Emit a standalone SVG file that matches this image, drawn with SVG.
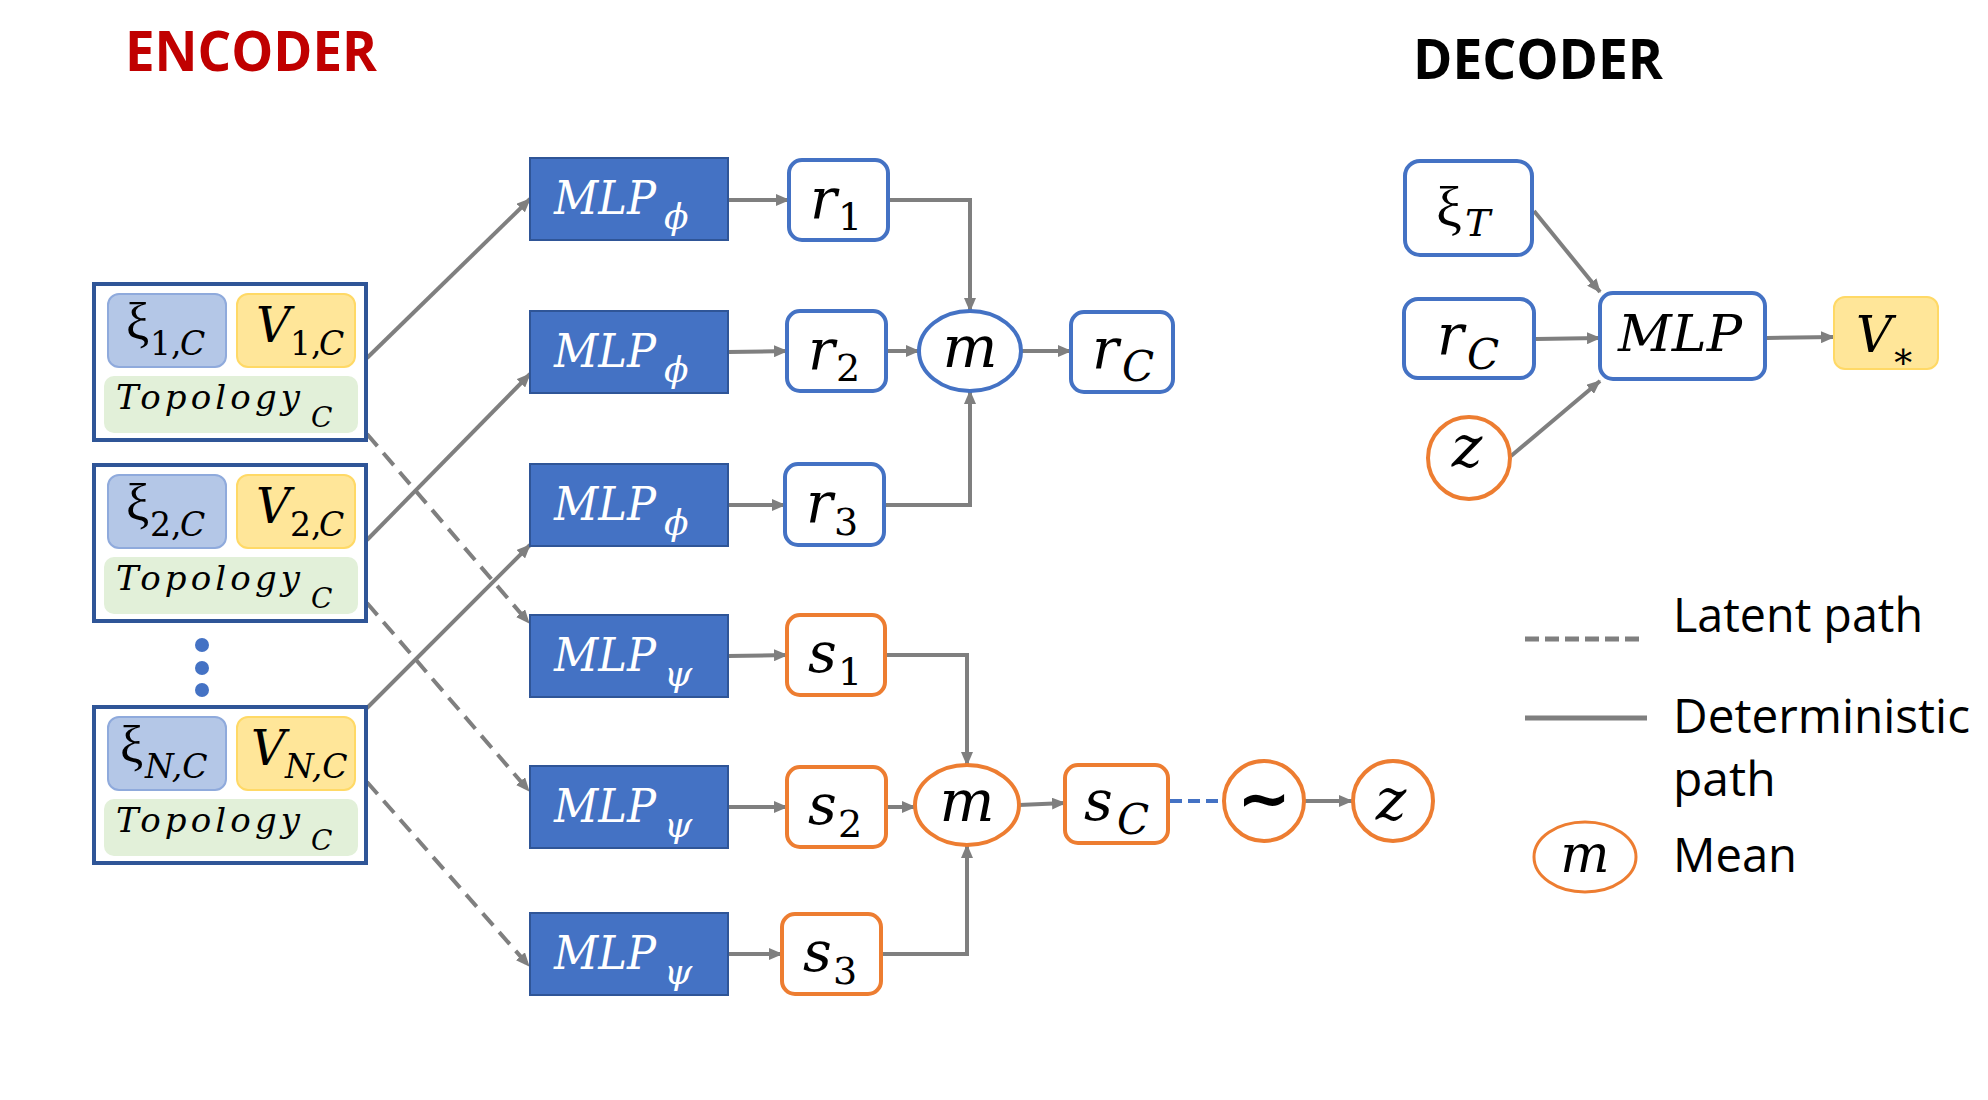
<svg xmlns="http://www.w3.org/2000/svg" width="1988" height="1100" viewBox="0 0 1988 1100">
<defs>
<style>
.math{font-family:"DejaVu Serif","Liberation Serif",serif;font-style:italic;fill:#000}
.up{font-style:normal}
.xig{font-family:"Liberation Serif","DejaVu Serif",serif;font-style:normal}
.white{fill:#fff}
.mlpbox{fill:#4472C4;stroke:#2F5597;stroke-width:2}
.bnode{fill:#fff;stroke:#4472C4;stroke-width:4}
.onode{fill:#fff;stroke:#ED7D31;stroke-width:4}
.outer{fill:#fff;stroke:#2F5597;stroke-width:4}
.xi{fill:#B4C7E7;stroke:#8FAADC;stroke-width:2}
.vv{fill:#FFE699;stroke:#FFD966;stroke-width:2}
.topo{fill:#E2F0D9}
.conn{stroke:#7F7F7F;stroke-width:4;fill:none}
.dash{stroke-dasharray:16 9}
.lbl{font-family:"Open Sans","Liberation Sans",sans-serif;fill:#000}
.title{font-family:"Open Sans","Liberation Sans",sans-serif;font-weight:bold}
</style>
<marker id="ah" markerUnits="userSpaceOnUse" markerWidth="14" markerHeight="12" refX="13" refY="6" orient="auto">
<path d="M0,0 L14,6 L0,12 z" fill="#7F7F7F"/>
</marker>
</defs>
<rect width="1988" height="1100" fill="#fff"/>

<text class="title" x="125" y="71" font-size="56" fill="#C00000" textLength="252" lengthAdjust="spacingAndGlyphs">ENCODER</text>
<text class="title" x="1413" y="79" font-size="56" fill="#000" textLength="250" lengthAdjust="spacingAndGlyphs">DECODER</text>

<!-- connectors -->
<g id="connectors">
<path class="conn" marker-end="url(#ah)" d="M367,358 L530,199"/>
<path class="conn" marker-end="url(#ah)" d="M367,540 L530,374"/>
<path class="conn" marker-end="url(#ah)" d="M367,708 L530,545"/>
<path class="conn dash" marker-end="url(#ah)" d="M367,434 L529,623"/>
<path class="conn dash" marker-end="url(#ah)" d="M367,603 L529,791"/>
<path class="conn dash" marker-end="url(#ah)" d="M367,782 L529,966"/>

<path class="conn" marker-end="url(#ah)" d="M728,200 L789,200"/>
<path class="conn" marker-end="url(#ah)" d="M728,352 L787,351"/>
<path class="conn" marker-end="url(#ah)" d="M728,505 L785,505"/>
<path class="conn" marker-end="url(#ah)" d="M728,656 L787,655"/>
<path class="conn" marker-end="url(#ah)" d="M728,807 L787,807"/>
<path class="conn" marker-end="url(#ah)" d="M728,954 L782,954"/>

<path class="conn" marker-end="url(#ah)" d="M888,200 L970,200 L970,311"/>
<path class="conn" marker-end="url(#ah)" d="M886,351 L919,351"/>
<path class="conn" marker-end="url(#ah)" d="M884,505 L970,505 L970,391"/>
<path class="conn" marker-end="url(#ah)" d="M1021,351 L1071,351"/>

<path class="conn" marker-end="url(#ah)" d="M885,655 L967,655 L967,765"/>
<path class="conn" marker-end="url(#ah)" d="M886,807 L915,807"/>
<path class="conn" marker-end="url(#ah)" d="M881,954 L967,954 L967,845"/>
<path class="conn" marker-end="url(#ah)" d="M1019,805 L1065,803"/>
<path d="M1170,801 L1222,801" stroke="#4472C4" stroke-width="4" stroke-dasharray="12 6" fill="none"/>
<path class="conn" marker-end="url(#ah)" d="M1304,801 L1352,801"/>

<path class="conn" marker-end="url(#ah)" d="M1534,211 L1600,292"/>
<path class="conn" marker-end="url(#ah)" d="M1536,339 L1600,338"/>
<path class="conn" marker-end="url(#ah)" d="M1511,456 L1600,381"/>
<path class="conn" marker-end="url(#ah)" d="M1767,338 L1834,337"/>
</g>

<!-- input groups -->
<g id="input1">
<rect class="outer" x="94" y="284" width="272" height="156"/>
<rect class="xi" x="108" y="294" width="118" height="73" rx="11"/>
<rect class="vv" x="237" y="294" width="118" height="73" rx="11"/>
<rect class="topo" x="104" y="376" width="254" height="57" rx="10"/>
<text class="math" font-size="33"><tspan class="xig" x="126" y="339" font-size="52">ξ</tspan><tspan class="up" x="150" y="355">1,</tspan><tspan x="180" y="355">C</tspan></text>
<text class="math" font-size="48"><tspan x="256" y="342">V</tspan><tspan class="up" x="290" y="355" font-size="33">1,</tspan><tspan x="319" y="355" font-size="33">C</tspan></text>
<text class="math" font-size="34"><tspan x="116" y="409" textLength="184" lengthAdjust="spacing">Topology</tspan><tspan x="311" y="427" font-size="28">C</tspan></text>
</g>
<g id="input2">
<rect class="outer" x="94" y="465" width="272" height="156"/>
<rect class="xi" x="108" y="475" width="118" height="73" rx="11"/>
<rect class="vv" x="237" y="475" width="118" height="73" rx="11"/>
<rect class="topo" x="104" y="557" width="254" height="57" rx="10"/>
<text class="math" font-size="33"><tspan class="xig" x="126" y="520" font-size="52">ξ</tspan><tspan class="up" x="150" y="536">2,</tspan><tspan x="180" y="536">C</tspan></text>
<text class="math" font-size="48"><tspan x="256" y="523">V</tspan><tspan class="up" x="290" y="536" font-size="33">2,</tspan><tspan x="319" y="536" font-size="33">C</tspan></text>
<text class="math" font-size="34"><tspan x="116" y="590" textLength="184" lengthAdjust="spacing">Topology</tspan><tspan x="311" y="608" font-size="28">C</tspan></text>
</g>
<g id="dots" fill="#4472C4">
<circle cx="202" cy="645" r="7"/>
<circle cx="202" cy="668" r="7"/>
<circle cx="202" cy="690" r="7"/>
</g>
<g id="inputN">
<rect class="outer" x="94" y="707" width="272" height="156"/>
<rect class="xi" x="108" y="717" width="118" height="73" rx="11"/>
<rect class="vv" x="237" y="717" width="118" height="73" rx="11"/>
<rect class="topo" x="104" y="799" width="254" height="57" rx="10"/>
<text class="math" font-size="33"><tspan class="xig" x="120" y="762" font-size="52">ξ</tspan><tspan x="145" y="778">N,C</tspan></text>
<text class="math" font-size="48"><tspan x="251" y="765">V</tspan><tspan x="285" y="778" font-size="33">N,C</tspan></text>
<text class="math" font-size="34"><tspan x="116" y="832" textLength="184" lengthAdjust="spacing">Topology</tspan><tspan x="311" y="850" font-size="28">C</tspan></text>
</g>

<!-- MLP boxes -->
<g id="mlp_phi1"><rect class="mlpbox" x="530" y="158" width="198" height="82"/><text class="math white" font-size="47"><tspan x="554" y="214" textLength="102" lengthAdjust="spacingAndGlyphs">MLP</tspan><tspan x="664" y="229" font-size="36">ϕ</tspan></text></g>
<g id="mlp_phi2"><rect class="mlpbox" x="530" y="311" width="198" height="82"/><text class="math white" font-size="47"><tspan x="554" y="367" textLength="102" lengthAdjust="spacingAndGlyphs">MLP</tspan><tspan x="664" y="382" font-size="36">ϕ</tspan></text></g>
<g id="mlp_phi3"><rect class="mlpbox" x="530" y="464" width="198" height="82"/><text class="math white" font-size="47"><tspan x="554" y="520" textLength="102" lengthAdjust="spacingAndGlyphs">MLP</tspan><tspan x="664" y="535" font-size="36">ϕ</tspan></text></g>
<g id="mlp_psi1"><rect class="mlpbox" x="530" y="615" width="198" height="82"/><text class="math white" font-size="47"><tspan x="554" y="671" textLength="102" lengthAdjust="spacingAndGlyphs">MLP</tspan><tspan x="664" y="686" font-size="36">ψ</tspan></text></g>
<g id="mlp_psi2"><rect class="mlpbox" x="530" y="766" width="198" height="82"/><text class="math white" font-size="47"><tspan x="554" y="822" textLength="102" lengthAdjust="spacingAndGlyphs">MLP</tspan><tspan x="664" y="837" font-size="36">ψ</tspan></text></g>
<g id="mlp_psi3"><rect class="mlpbox" x="530" y="913" width="198" height="82"/><text class="math white" font-size="47"><tspan x="554" y="969" textLength="102" lengthAdjust="spacingAndGlyphs">MLP</tspan><tspan x="664" y="984" font-size="36">ψ</tspan></text></g>

<!-- r nodes -->
<g id="r1"><rect class="bnode" x="789" y="160" width="99" height="80" rx="13"/><text class="math" font-size="56"><tspan x="810" y="218">r</tspan><tspan class="up" x="838" y="230" font-size="38">1</tspan></text></g>
<g id="r2"><rect class="bnode" x="787" y="311" width="99" height="80" rx="13"/><text class="math" font-size="56"><tspan x="808" y="369">r</tspan><tspan class="up" x="836" y="381" font-size="38">2</tspan></text></g>
<g id="r3"><rect class="bnode" x="785" y="464" width="99" height="81" rx="13"/><text class="math" font-size="56"><tspan x="806" y="522">r</tspan><tspan class="up" x="834" y="535" font-size="38">3</tspan></text></g>
<g id="m_r"><ellipse class="bnode" cx="970" cy="351" rx="51" ry="40"/><text class="math" font-size="58" x="970" y="367" text-anchor="middle">m</text></g>
<g id="rC"><rect class="bnode" x="1071" y="312" width="102" height="80" rx="13"/><text class="math" font-size="56"><tspan x="1092" y="368">r</tspan><tspan x="1122" y="381" font-size="42">C</tspan></text></g>

<!-- s nodes -->
<g id="s1"><rect class="onode" x="787" y="615" width="98" height="80" rx="13"/><text class="math" font-size="56"><tspan x="808" y="672">s</tspan><tspan class="up" x="838" y="685" font-size="38">1</tspan></text></g>
<g id="s2"><rect class="onode" x="787" y="767" width="99" height="80" rx="13"/><text class="math" font-size="56"><tspan x="808" y="824">s</tspan><tspan class="up" x="838" y="837" font-size="38">2</tspan></text></g>
<g id="s3"><rect class="onode" x="782" y="914" width="99" height="80" rx="13"/><text class="math" font-size="56"><tspan x="803" y="971">s</tspan><tspan class="up" x="833" y="984" font-size="38">3</tspan></text></g>
<g id="m_s"><ellipse class="onode" cx="967" cy="805" rx="52" ry="40"/><text class="math" font-size="58" x="967" y="821" text-anchor="middle">m</text></g>
<g id="sC"><rect class="onode" x="1065" y="765" width="103" height="78" rx="13"/><text class="math" font-size="56"><tspan x="1084" y="820">s</tspan><tspan x="1117" y="834" font-size="42">C</tspan></text></g>
<g id="tilde"><ellipse class="onode" cx="1264" cy="801" rx="40" ry="40"/><text x="1264" y="820" text-anchor="middle" font-family="DejaVu Sans, sans-serif" font-weight="bold" font-size="64">~</text></g>
<g id="z_enc"><ellipse class="onode" cx="1393" cy="801" rx="40" ry="40"/><text class="math" font-size="58" x="1391" y="820" text-anchor="middle">z</text></g>

<!-- decoder -->
<g id="xiT"><rect class="bnode" x="1405" y="161" width="127" height="94" rx="15"/><text class="math" font-size="38"><tspan class="xig" x="1436" y="226" font-size="58" font-style="italic">ξ</tspan><tspan x="1465" y="236">T</tspan></text></g>
<g id="rC_dec"><rect class="bnode" x="1404" y="299" width="130" height="79" rx="14"/><text class="math" font-size="56"><tspan x="1437" y="354">r</tspan><tspan x="1467" y="369" font-size="42">C</tspan></text></g>
<g id="z_dec"><circle class="onode" cx="1469" cy="458" r="41"/><text class="math" font-size="58" x="1467" y="467" text-anchor="middle">z</text></g>
<g id="mlp_dec"><rect class="bnode" x="1600" y="293" width="165" height="86" rx="13"/><text class="math" font-size="51" x="1618" y="351" textLength="124" lengthAdjust="spacingAndGlyphs">MLP</text></g>
<g id="vstar"><rect class="vv" x="1834" y="297" width="104" height="72" rx="11"/><text class="math" font-size="50"><tspan x="1856" y="352">V</tspan><tspan class="up" x="1891" y="368" font-size="36">∗</tspan></text></g>

<!-- legend -->
<g id="legend">
<line x1="1525" y1="639" x2="1645" y2="639" stroke="#7F7F7F" stroke-width="5" stroke-dasharray="14 6"/>
<text class="lbl" x="1673" y="632" font-size="48" textLength="250" lengthAdjust="spacingAndGlyphs">Latent path</text>
<line x1="1525" y1="718" x2="1647" y2="718" stroke="#7F7F7F" stroke-width="5"/>
<text class="lbl" x="1673" y="733" font-size="48" textLength="297" lengthAdjust="spacingAndGlyphs">Deterministic</text>
<text class="lbl" x="1673" y="796" font-size="48">path</text>
<ellipse cx="1585" cy="857" rx="51" ry="35" fill="#fff" stroke="#ED7D31" stroke-width="3"/>
<text class="math" font-size="52" x="1585" y="872" text-anchor="middle">m</text>
<text class="lbl" x="1673" y="872" font-size="48" textLength="124" lengthAdjust="spacingAndGlyphs">Mean</text>
</g>
</svg>
